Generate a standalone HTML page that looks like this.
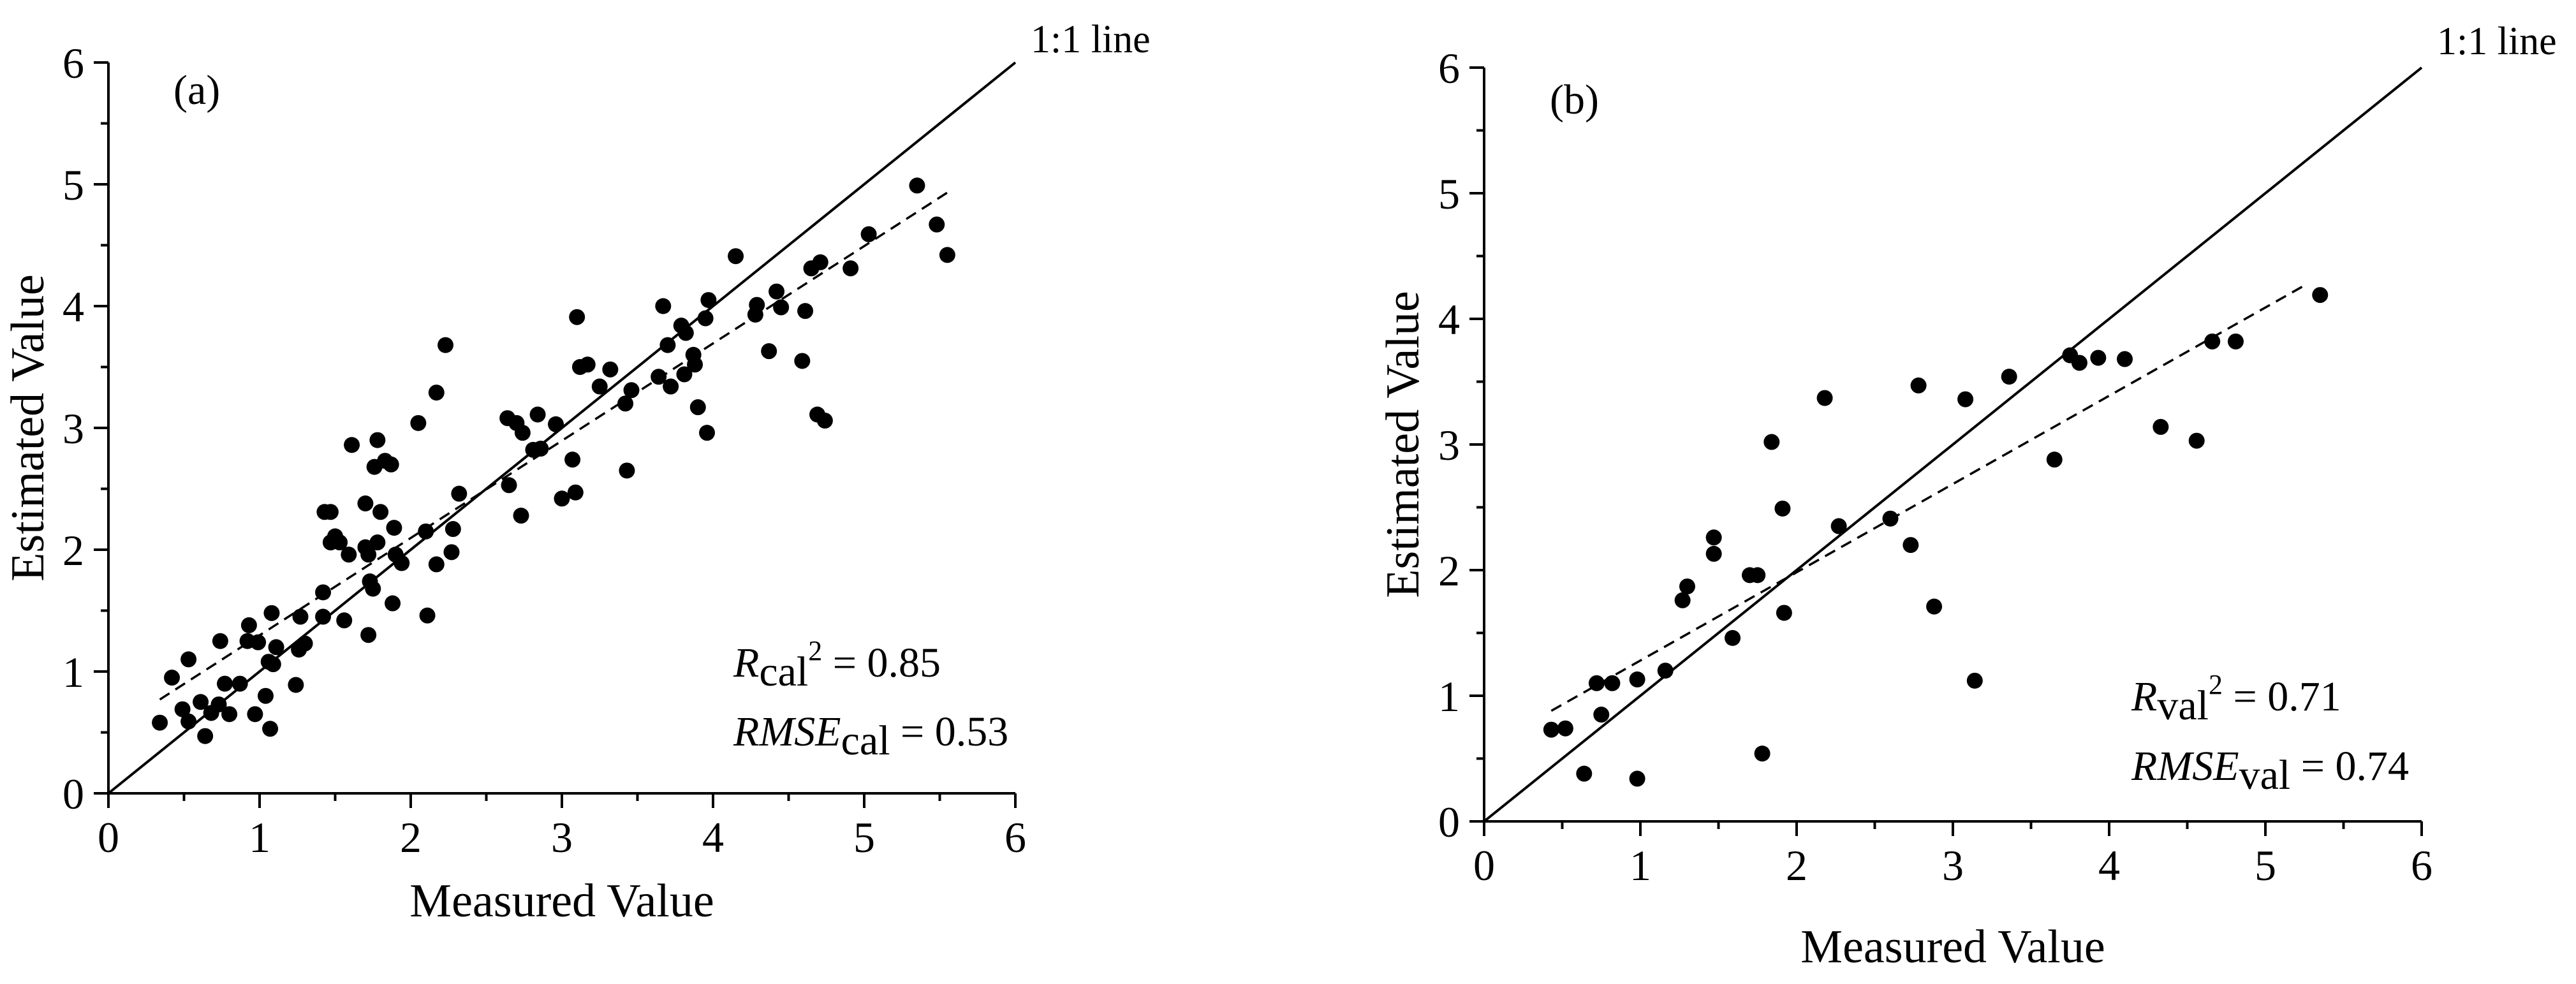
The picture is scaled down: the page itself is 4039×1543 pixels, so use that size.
<!DOCTYPE html>
<html><head><meta charset="utf-8"><style>
html,body{margin:0;padding:0;background:#fff;}
svg, svg text{font-family:"Liberation Serif","Times New Roman","DejaVu Serif",serif;}
</style></head><body>
<svg id="chart" width="4039" height="1538" viewBox="0 0 4039 1538" xmlns="http://www.w3.org/2000/svg" font-family="'Liberation Serif', 'DejaVu Serif', serif">
<rect width="4039" height="1538" fill="#fff"/>
</svg>
<script>
const ticks = [0,1,2,3,4,5,6];
const minorTicks = [0.5,1.5,2.5,3.5,4.5,5.5];
const calX = [0.34,0.42,0.49,0.53,0.53,0.61,0.64,0.68,0.73,0.74,0.77,0.80,0.87,0.92,0.93,0.97,0.99,1.04,1.06,1.08,1.09,1.07,1.11,1.24,1.26,1.27,1.30,1.42,1.42,1.43,1.47,1.47,1.50,1.53,1.56,1.59,1.61,1.70,1.70,1.72,1.72,1.73,1.75,1.76,1.78,1.78,1.80,1.83,1.87,1.88,1.89,1.90,1.94,2.05,2.10,2.11,2.17,2.17,2.23,2.27,2.28,2.32,2.64,2.65,2.70,2.73,2.74,2.81,2.84,2.86,2.96,3.00,3.07,3.09,3.10,3.12,3.17,3.25,3.32,3.42,3.43,3.46,3.64,3.67,3.70,3.72,3.79,3.81,3.82,3.87,3.88,3.90,3.95,3.96,3.97,4.15,4.28,4.29,4.37,4.42,4.45,4.59,4.61,4.65,4.69,4.71,4.74,4.91,5.03,5.35,5.48,5.55];
const calY = [0.58,0.95,0.69,1.10,0.59,0.75,0.47,0.66,0.73,1.25,0.90,0.65,0.90,1.25,1.38,0.65,1.24,0.80,1.08,1.48,1.06,0.53,1.20,0.89,1.18,1.45,1.23,1.65,1.45,2.31,2.31,2.06,2.11,2.06,1.42,1.96,2.86,2.38,2.02,1.96,1.30,1.74,1.68,2.68,2.90,2.06,2.31,2.73,2.70,1.56,2.18,1.96,1.89,3.04,2.15,1.46,3.29,1.88,3.68,1.98,2.17,2.46,3.08,2.53,3.04,2.28,2.96,2.82,3.11,2.83,3.03,2.42,2.74,2.47,3.91,3.50,3.52,3.34,3.48,3.20,2.65,3.31,3.42,4.00,3.68,3.34,3.84,3.44,3.78,3.60,3.52,3.17,3.90,2.96,4.05,4.41,3.93,4.01,3.63,4.12,3.99,3.55,3.96,4.31,3.11,4.36,3.06,4.31,4.59,4.99,4.67,4.42];
const calFitX = [0.34,5.56];
const calFitY = [0.77,4.94];
const valX = [0.43,0.52,0.64,0.72,0.75,0.82,0.98,0.98,1.16,1.27,1.30,1.47,1.47,1.59,1.70,1.75,1.78,1.84,1.91,1.92,2.18,2.27,2.60,2.73,2.78,2.88,3.08,3.14,3.36,3.65,3.75,3.81,3.93,4.10,4.33,4.56,4.66,4.81,5.35];
const valY = [0.73,0.74,0.38,1.10,0.85,1.10,0.34,1.13,1.20,1.76,1.87,2.26,2.13,1.46,1.96,1.96,0.54,3.02,2.49,1.66,3.37,2.35,2.41,2.20,3.47,1.71,3.36,1.12,3.54,2.88,3.71,3.65,3.69,3.68,3.14,3.03,3.82,3.82,4.19];
const valFitX = [0.43,5.27];
const valFitY = [0.88,4.28];

const NS = "http://www.w3.org/2000/svg";
const FONT = "'Liberation Serif', 'DejaVu Serif', serif";
const svg = document.getElementById('chart');
function mk(tag, attrs, parent, text){
  const e = document.createElementNS(NS, tag);
  for (const k in attrs) e.setAttribute(k, attrs[k]);
  if (tag === 'text') e.setAttribute('font-family', FONT);
  if (text !== undefined) e.textContent = text;
  parent.appendChild(e);
  return e;
}
function panel(cfg){
  const g = mk('g', {}, svg);
  
  
  const sx = v => cfg.x0 + v*cfg.ux;
  const sy = v => cfg.y0 - v*cfg.uy;
  const ax = mk('line', {x1:sx(0), y1:cfg.y0, x2:sx(6), y2:cfg.y0, stroke:'#000','stroke-width':4}, g);
  
  
  const ay = mk('line', {x1:cfg.x0, y1:sy(6), x2:cfg.x0, y2:cfg.y0, stroke:'#000','stroke-width':4}, g);
  
  
  ticks.forEach(t => {
    const tx = mk('line', {x1:sx(t), y1:cfg.y0, x2:sx(t), y2:cfg.y0+23, stroke:'#000','stroke-width':4}, g);
    
    
    const lx = mk('text', {x:sx(t), y:cfg.y0+92, 'font-size':68, 'text-anchor':'middle'}, g, String(t));
    
    
    const ty = mk('line', {x1:cfg.x0-23, y1:sy(t), x2:cfg.x0, y2:sy(t), stroke:'#000','stroke-width':4}, g);
    
    
    const ly = mk('text', {x:cfg.x0-38, y:sy(t)+24, 'font-size':68, 'text-anchor':'end'}, g, String(t));
    
    
  });
  minorTicks.forEach(t => {
    const mx = mk('line', {x1:sx(t), y1:cfg.y0, x2:sx(t), y2:cfg.y0+12, stroke:'#000','stroke-width':4}, g);
    
    
    const my = mk('line', {x1:cfg.x0-12, y1:sy(t), x2:cfg.x0, y2:sy(t), stroke:'#000','stroke-width':4}, g);
    
    
  });
  const one = mk('line', {x1:sx(0), y1:sy(0), x2:sx(6), y2:sy(6), stroke:'#000','stroke-width':4}, g);
  
  
  const oneL = mk('text', {x:sx(6)+24, y:cfg.oneY, 'font-size':62}, g, '1:1 line');
  
  
  const fit = mk('line', {x1:sx(cfg.fx[0]), y1:sy(cfg.fy[0]), x2:sx(cfg.fx[1]), y2:sy(cfg.fy[1]), stroke:'#000','stroke-width':3.5,'stroke-dasharray':'18 11'}, g);
  
  
  cfg.px.forEach((v,i) => {
    const c = mk('circle', {cx:sx(v), cy:sy(cfg.py[i]), r:12.5, fill:'#000'}, g);
    
    
  });
  const pl = mk('text', {x:cfg.labX, y:cfg.labY, 'font-size':66}, g, cfg.lab);
  
  
  const xt = mk('text', {x:sx(3), y:cfg.xtY, 'font-size':74, 'text-anchor':'middle'}, g, 'Measured Value');
  
  
  const yt = mk('text', {x:0, y:0, 'font-size':74, 'text-anchor':'middle', transform:`translate(${cfg.ytX},${sy(3)}) rotate(-90)`}, g, 'Estimated Value');
  
  
  const r2 = mk('text', {x:cfg.stX, y:cfg.r2Y, 'font-size':66}, g);
  
  
  mk('tspan', {'font-style':'italic'}, r2, 'R');
  mk('tspan', {dy:14}, r2, cfg.sub);
  mk('tspan', {dy:-40, 'font-size':44}, r2, '2');
  mk('tspan', {dy:26}, r2, ' = ' + cfg.r2);
  const rm = mk('text', {x:cfg.stX, y:cfg.rmY, 'font-size':66}, g);
  
  
  mk('tspan', {'font-style':'italic'}, rm, 'RMSE');
  mk('tspan', {dy:14}, rm, cfg.sub);
  mk('tspan', {dy:-14}, rm, ' = ' + cfg.rmse);
}
panel({name:'panel-a-calibration', x0:170, y0:1244, ux:237, uy:191, fx:calFitX, fy:calFitY, px:calX, py:calY,
  oneY:82, lab:'(a)', labX:272, labY:163, xtY:1437, ytX:68, stX:1150, r2Y:1061, rmY:1169, sub:'cal', r2:'0.85', rmse:'0.53'});
panel({name:'panel-b-validation', x0:2327, y0:1288, ux:245, uy:197, fx:valFitX, fy:valFitY, px:valX, py:valY,
  oneY:85, lab:'(b)', labX:2430, labY:178, xtY:1509, ytX:2224, stX:3342, r2Y:1114, rmY:1223, sub:'val', r2:'0.71', rmse:'0.74'});
</script>
</body></html>
